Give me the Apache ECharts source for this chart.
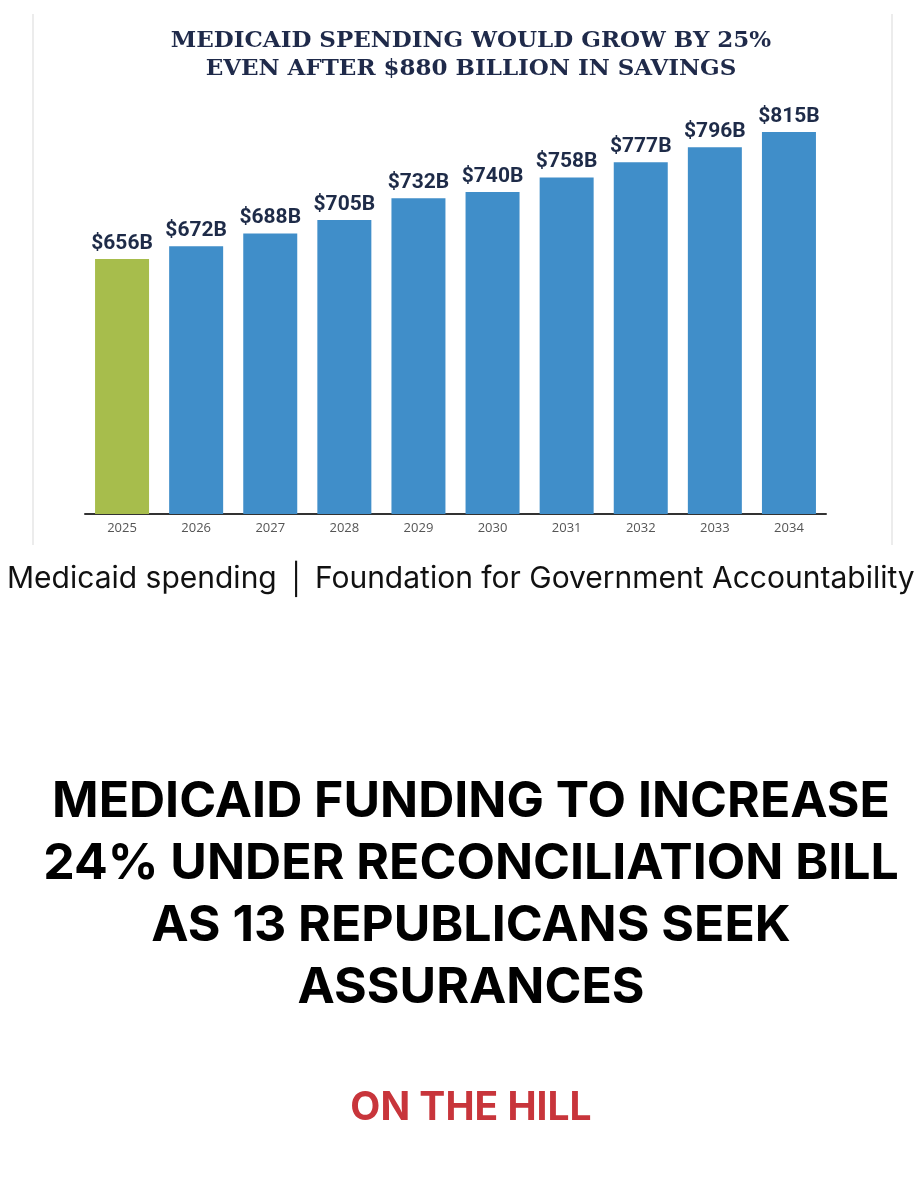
<!DOCTYPE html>
<html>
<head>
<meta charset="utf-8">
<title>Medicaid spending</title>
<script src="https://cdn.jsdelivr.net/npm/echarts@6/dist/echarts.min.js"></script>
<style>
  html, body { margin: 0; padding: 0; background: #fff; }
  #main { width: 914px; height: 1200px; }
</style>
</head>
<body>
<div id="main"></div>
<script>
// data
var years = ['2025', '2026', '2027', '2028', '2029', '2030', '2031', '2032', '2033', '2034'];
var spending = [656, 672, 688, 705, 732, 740, 758, 777, 796, 815]; // billions of dollars

var chartTitle = 'MEDICAID SPENDING WOULD GROW BY 25%\nEVEN AFTER $880 BILLION IN SAVINGS';
var caption = 'Medicaid spending \u2502 Foundation for Government Accountability';
var headline = 'MEDICAID FUNDING TO INCREASE\n24% UNDER RECONCILIATION BILL\nAS 13 REPUBLICANS SEEK\nASSURANCES';
var kicker = 'ON THE HILL';

var chart = echarts.init(document.getElementById('main'));

var option = {
    backgroundColor: '#ffffff',
    animation: false,
    title: [
        {
            text: chartTitle,
            left: 466,
            top: 22,
            textAlign: 'center',
            textStyle: {
                fontFamily: 'DejaVu Serif',
                fontWeight: 900,
                fontSize: 23,
                lineHeight: 28,
                color: '#1f2a4a'
            }
        },
        {
            text: caption,
            left: 2,
            top: 559,
            textStyle: {
                fontFamily: 'Inter',
                fontWeight: 'normal',
                fontSize: 30,
                color: '#111'
            }
        },
        {
            text: headline,
            left: 466,
            top: 766,
            textAlign: 'center',
            textStyle: {
                fontFamily: 'Inter',
                fontWeight: 'bold',
                fontSize: 50,
                lineHeight: 62,
                color: '#000'
            }
        },
        {
            text: kicker,
            left: 466,
            top: 1084,
            textAlign: 'center',
            textStyle: {
                fontFamily: 'Inter',
                fontWeight: 'bold',
                fontSize: 39,
                color: '#c8353b'
            }
        }
    ],
    graphic: [
        {
            // faint side edges of the original image
            type: 'line',
            shape: { x1: 33, y1: 14, x2: 33, y2: 545 },
            style: { stroke: '#e6e6e6', lineWidth: 1.5 },
            silent: true
        },
        {
            type: 'line',
            shape: { x1: 892, y1: 14, x2: 892, y2: 545 },
            style: { stroke: '#e6e6e6', lineWidth: 1.5 },
            silent: true
        }
    ],
    grid: {
        left: 85,
        right: 88,
        top: 100,
        bottom: 686
    },
    xAxis: {
        type: 'category',
        data: years,
        axisLine: { lineStyle: { color: '#333', width: 2 } },
        axisTick: { show: false },
        axisLabel: {
            fontFamily: 'Open Sans',
            fontSize: 13,
            color: '#555',
            margin: 8
        }
    },
    yAxis: {
        type: 'value',
        min: 337,
        max: 855,
        show: false,
        splitLine: { show: false }
    },
    series: [
        {
            type: 'bar',
            data: spending,
            barWidth: 54,
            itemStyle: {
                color: function (p) {
                    return p.dataIndex === 0 ? '#a7bd4c' : '#408ec9';
                }
            },
            label: {
                show: true,
                position: 'top',
                distance: 5,
                formatter: function (p) {
                    return '$' + p.value + 'B';
                },
                fontFamily: 'Roboto',
                fontWeight: 'bold',
                fontSize: 21,
                color: '#1e2b48'
            }
        }
    ]
};

chart.setOption(option);

window.addEventListener('resize', function () {
    chart.resize();
});
</script>
</body>
</html>
